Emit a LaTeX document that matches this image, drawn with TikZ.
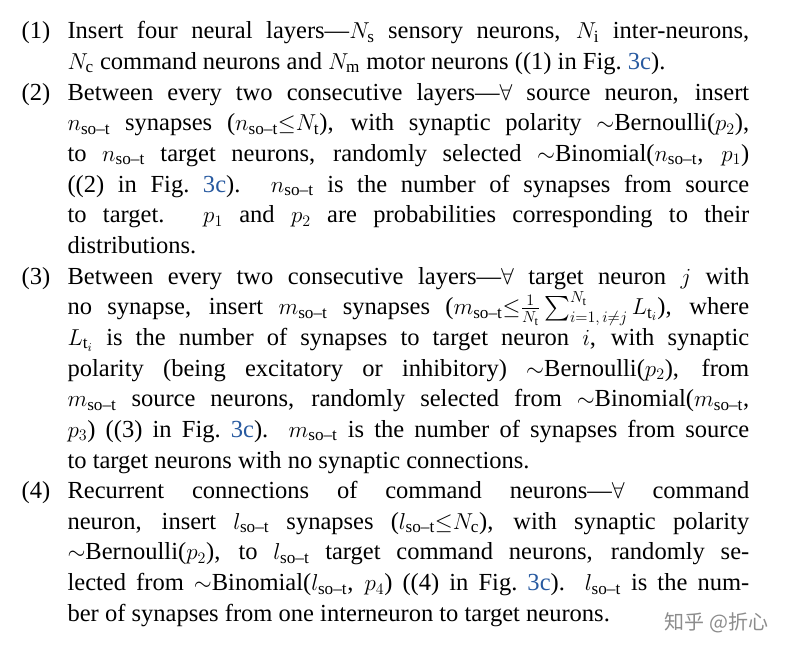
\documentclass[tikz,border=0pt]{standalone}
\usepackage{fontspec}
\setmainfont{Liberation Serif}
\newfontfamily\cjk{Noto Sans CJK SC}
\usepackage{amsmath,amssymb}
\definecolor{figblue}{RGB}{40,90,160}
\newcommand{\fg}{Fig.~\textcolor{figblue}{3c}}
\newcommand{\so}{\mathrm{so\text{--}t}}
\newcommand{\itm}[2]{\noindent\hangindent=34.5pt\hangafter=1\makebox[34.5pt][l]{#1}#2\par}
\begin{document}
\begin{tikzpicture}[x=1pt,y=1pt]
\useasboundingbox (0,0) rectangle (595,-490.5);
\fill[white] (0,0) rectangle (595,-490.5);
\node[anchor=north west,inner sep=0pt,text width=546pt,align=justify] (body) at (16,-16) {%
\fontsize{18.4}{23}\selectfont\sloppy\thickmuskip=2mu plus 1mu\relax
\itm{(1)}{Insert four neural layers---$N_{\mathrm{s}}$ sensory neurons, $N_{\mathrm{i}}$ inter-neurons,\linebreak
$N_{\mathrm{c}}$ command neurons and $N_{\mathrm{m}}$ motor neurons ((1) in \fg).}
\itm{(2)}{Between every two consecutive layers---$\forall$ source neuron, insert\linebreak
$n_{\so}$ synapses ($n_{\so}{\le}N_{\mathrm{t}}$), with synaptic polarity $\sim$Bernoulli($p_2$),\linebreak
to $n_{\so}$ target neurons, randomly selected $\sim$Binomial($n_{\so}$, $p_1$)\linebreak
((2) in \fg). $n_{\so}$ is the number of synapses from source\linebreak
to target. $p_1$ and $p_2$ are probabilities corresponding to their\linebreak
distributions.}
\itm{(3)}{Between every two consecutive layers---$\forall$ target neuron $j$ with\linebreak
no synapse, insert $m_{\so}$ synapses ($m_{\so}{\le}\frac{1}{N_{\mathrm{t}}}\sum_{i=1,\,i\ne j}^{N_{\mathrm{t}}}L_{\mathrm{t}_i}$), where\linebreak
$L_{\mathrm{t}_i}$ is the number of synapses to target neuron $i$, with synaptic\linebreak
polarity (being excitatory or inhibitory) $\sim$Bernoulli($p_2$), from\linebreak
$m_{\so}$ source neurons, randomly selected from $\sim$Binomial($m_{\so}$,\linebreak
$p_3$) ((3) in \fg). $m_{\so}$ is the number of synapses from source\linebreak
to target neurons with no synaptic connections.}
\itm{(4)}{Recurrent connections of command neurons---$\forall$ command\linebreak
neuron, insert $l_{\so}$ synapses ($l_{\so}{\le}N_{\mathrm{c}}$), with synaptic polarity\linebreak
$\sim$Bernoulli($p_2$), to $l_{\so}$ target command neurons, randomly se-\linebreak
lected from $\sim$Binomial($l_{\so}$, $p_4$) ((4) in \fg). $l_{\so}$ is the num-\linebreak
ber of synapses from one interneuron to target neurons.}
};
\node[anchor=east,text=black!45,font=\cjk\fontsize{15}{15}\selectfont] (wm) at (580,-467) {知乎 @折心};
\end{tikzpicture}
\end{document}
